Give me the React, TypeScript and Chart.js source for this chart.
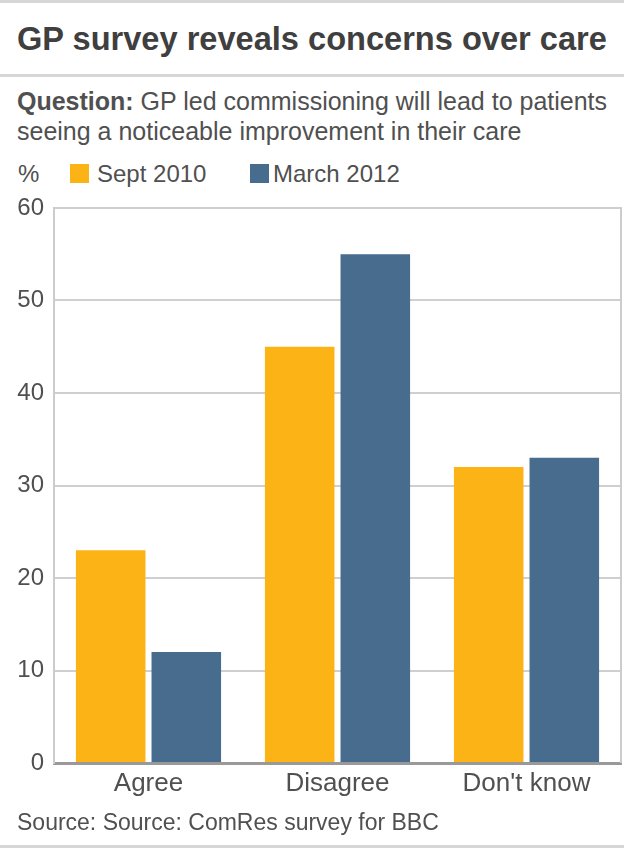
import React, { useEffect, useRef } from "react";
import { Chart, registerables } from "chart.js";

Chart.register(...registerables);

const categories = ["Agree", "Disagree", "Don't know"];
const seriesNames = ["Sept 2010", "March 2012"];
const sept2010 = [23, 45, 32];
const march2012 = [12, 55, 33];
const yMin = 0;
const yMax = 60;
const yStep = 10;

const seriesColors = ["#FCB316", "#476C8D"];
const textColor = "#505050";
const fontFamily = "'Liberation Sans', Arial, Helvetica, sans-serif";

const frameBorders = {
  id: "frameBorders",
  afterDraw(chart: any) {
    const { ctx, chartArea } = chart;
    ctx.save();
    ctx.strokeStyle = "#cccccc";
    ctx.lineWidth = 2;
    ctx.beginPath();
    ctx.moveTo(chartArea.right, chartArea.top - 1);
    ctx.lineTo(chartArea.right, chartArea.bottom);
    ctx.stroke();
    ctx.restore();
  },
};

export default function App() {
  const canvasRef = useRef<HTMLCanvasElement>(null);

  useEffect(() => {
    document.body.style.margin = "0";
    const canvas = canvasRef.current;
    if (!canvas) return;
    const chart = new Chart(canvas, {
      type: "bar",
      data: {
        labels: categories,
        datasets: [
          {
            label: seriesNames[0],
            data: sept2010,
            backgroundColor: seriesColors[0],
            borderWidth: 0,
          },
          {
            label: seriesNames[1],
            data: march2012,
            backgroundColor: seriesColors[1],
            borderWidth: 0,
          },
        ],
      },
      options: {
        animation: false,
        responsive: false,
        maintainAspectRatio: false,
        devicePixelRatio: 1,
        layout: { padding: { top: 28, right: 3, left: 0, bottom: 0 } },
        plugins: {
          legend: { display: false },
          tooltip: { enabled: false },
          title: { display: false },
        },
        datasets: {
          bar: { barPercentage: 0.92, categoryPercentage: 0.8 },
        },
        scales: {
          x: {
            grid: { color: "rgba(0,0,0,0)", drawTicks: false },
            border: { display: true, color: "#999999", width: 3 },
            ticks: {
              color: textColor,
              font: { family: fontFamily, size: 26 },
              padding: 5,
            },
            afterFit(scale: any) {
              scale.height = 47;
            },
          },
          y: {
            min: yMin,
            max: yMax,
            grid: { color: "#cfcfcf", lineWidth: 2, drawTicks: false },
            border: { display: true, color: "#cccccc", width: 2 },
            ticks: {
              stepSize: yStep,
              color: textColor,
              font: { family: fontFamily, size: 24 },
              padding: 10,
            },
            afterFit(scale: any) {
              scale.width = 54;
            },
          },
        },
      },
      plugins: [frameBorders],
    });
    return () => chart.destroy();
  }, []);

  const abs = (style: React.CSSProperties): React.CSSProperties => ({
    position: "absolute",
    margin: 0,
    whiteSpace: "nowrap",
    fontFamily,
    color: textColor,
    ...style,
  });

  return (
    <div
      style={{
        position: "relative",
        width: 624,
        height: 849,
        overflow: "hidden",
        background: "#ffffff",
      }}
    >
      <div style={{ position: "absolute", left: 0, top: 0, width: 624, height: 3, background: "#d6d6d6" }} />
      <div style={abs({ left: 17, top: 22, fontSize: 32.6, lineHeight: "33px", fontWeight: "bold", color: "#3f3f3f" })}>
        GP survey reveals concerns over care
      </div>
      <div style={{ position: "absolute", left: 0, top: 74, width: 624, height: 3, background: "#d6d6d6" }} />
      <div style={abs({ left: 17, top: 86, fontSize: 25, lineHeight: "30px", width: 607, overflow: "hidden" })}>
        <b>Question:</b> GP led commissioning will lead to patients
        <br />
        seeing a noticeable improvement in their care
      </div>
      <div style={abs({ left: 18, top: 162, fontSize: 24, lineHeight: "24px" })}>%</div>
      <div style={{ position: "absolute", left: 70, top: 164, width: 19, height: 19, background: seriesColors[0] }} />
      <div style={abs({ left: 97, top: 162, fontSize: 24, lineHeight: "24px" })}>{seriesNames[0]}</div>
      <div style={{ position: "absolute", left: 250, top: 164, width: 19, height: 19, background: seriesColors[1] }} />
      <div style={abs({ left: 273, top: 162, fontSize: 24, lineHeight: "24px" })}>{seriesNames[1]}</div>
      <canvas
        ref={canvasRef}
        width={624}
        height={630}
        style={{ position: "absolute", left: 0, top: 180, width: 624, height: 630 }}
      />
      <div style={abs({ left: 17, top: 811, fontSize: 23, lineHeight: "23px" })}>
        Source: Source: ComRes survey for BBC
      </div>
      <div style={{ position: "absolute", left: 0, top: 845, width: 624, height: 3, background: "#d6d6d6" }} />
    </div>
  );
}
